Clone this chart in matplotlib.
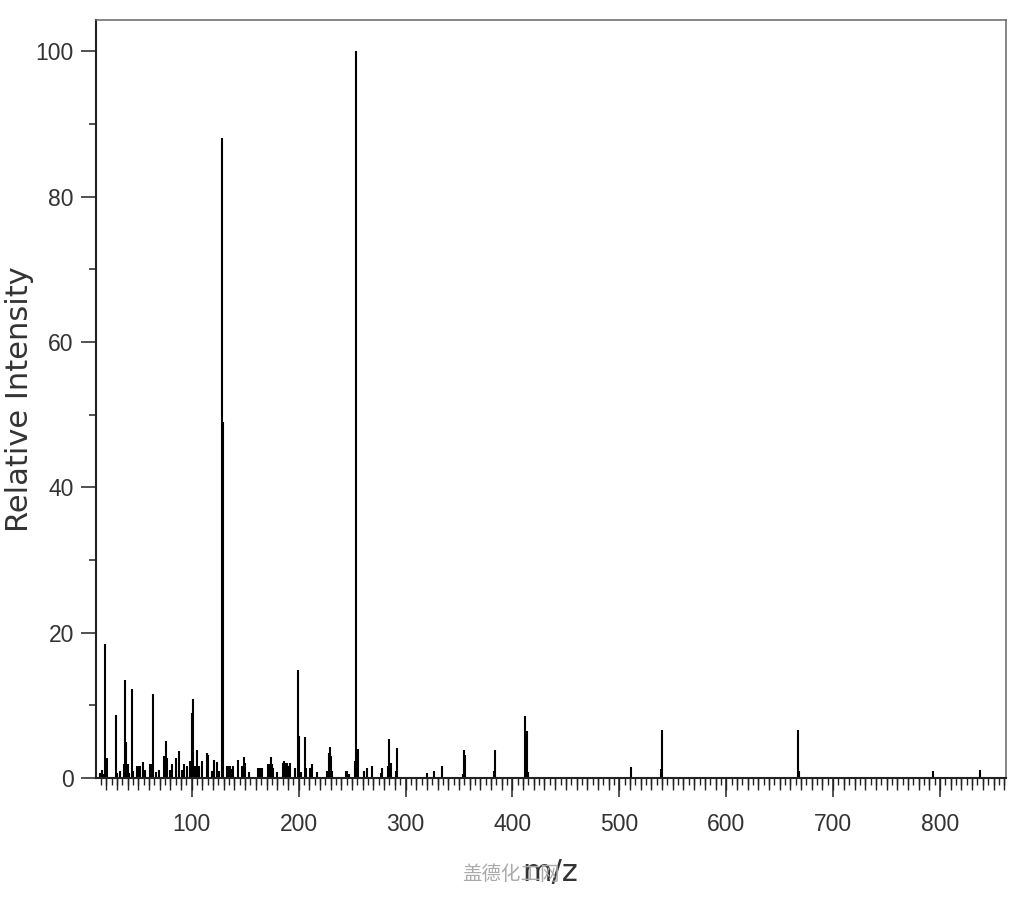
import numpy as np
import matplotlib.pyplot as plt
from matplotlib.ticker import MultipleLocator

# spettro di massa: m/z e intensita relativa
mz = [14, 16, 18, 19, 20, 21, 29, 30, 33, 37, 38, 39, 40, 41, 44, 45,
      49, 50, 51, 52, 54, 56, 61, 62, 63, 64, 67, 69, 74, 75, 76, 77,
      80, 82, 85, 88, 91, 93, 96, 98, 100, 101, 103, 105, 107, 110, 114,
      115, 119, 121, 124, 126, 128, 129, 133, 134, 135, 136, 138, 139,
      143, 147, 149, 150, 154, 162, 163, 164, 166, 171, 173, 174, 175,
      176, 180, 185, 186, 187, 189, 190, 192, 197, 199, 200, 202, 206,
      207, 211, 213, 217, 227, 228, 229, 230, 231, 244, 245, 247, 253,
      254, 255, 256, 261, 264, 269, 277, 278, 284, 285, 286, 291, 292,
      320, 327, 334, 354, 355, 356, 383, 384, 412, 413, 414, 415, 511,
      539, 540, 667, 668, 793, 837]
inten = [0.7, 1.1, 0.5, 18.4, 2.8, 2.8, 8.6, 0.7, 1.0, 1.9, 13.5, 4.9, 1.9,
         0.7, 12.2, 1.0, 1.7, 1.7, 1.5, 1.7, 2.2, 1.1, 1.9, 1.9, 1.9, 11.6,
         0.8, 1.1, 3.0, 3.0, 5.1, 2.8, 1.1, 1.9, 2.8, 3.7, 1.1, 1.9, 1.7,
         2.3, 8.9, 10.8, 1.7, 3.9, 1.7, 2.3, 3.5, 3.2, 0.9, 2.5, 2.2, 1.0,
         88.0, 49.0, 1.7, 1.7, 1.5, 1.7, 1.2, 1.7, 2.5, 1.7, 2.9, 2.0, 0.8,
         1.4, 0.8, 1.4, 1.4, 1.9, 1.9, 2.9, 1.9, 1.4, 0.8, 2.0, 2.3, 2.0,
         2.0, 1.6, 2.0, 1.4, 14.8, 5.8, 0.8, 5.7, 1.4, 1.4, 1.9, 0.8, 1.0,
         3.5, 4.3, 3.0, 1.0, 0.9, 0.9, 0.5, 2.4, 100.0, 2.4, 4.0, 0.9, 1.4,
         1.6, 0.7, 1.4, 1.6, 5.4, 2.0, 0.9, 4.1, 0.7, 0.9, 1.6, 0.6, 3.9,
         3.2, 1.0, 3.8, 8.5, 4.5, 6.5, 0.8, 1.5, 1.3, 6.6, 6.6, 0.9, 0.9, 1.1]

fig = plt.figure(figsize=(10.24, 9), dpi=100)
ax = fig.add_axes([0.09375, 0.1356, 0.8887, 0.8422])

ax.vlines(mz, 0, inten, color='black', lw=1.5)

ax.set_xlim(10.5, 861.7)
ax.set_ylim(0, 104.3)

ax.xaxis.set_major_locator(MultipleLocator(100))
ax.xaxis.set_minor_locator(MultipleLocator(5))
ax.yaxis.set_major_locator(MultipleLocator(20))
ax.yaxis.set_minor_locator(MultipleLocator(10))

ax.tick_params(axis='x', which='major', length=14, width=1.1, color='#222',
               labelsize=16.5, labelcolor='#333', pad=11)
ax.tick_params(axis='x', which='minor', length=5, width=1.0, color='#222')
ax.tick_params(axis='y', which='major', length=11, width=1.1, color='#222',
               labelsize=16.5, labelcolor='#333', pad=5)
ax.tick_params(axis='y', which='minor', length=5, width=1.1, color='#222')
for lab in ax.get_xticklabels() + ax.get_yticklabels():
    lab.set_family('Liberation Sans')

# tacche intermedie ogni 10
sec = ax.secondary_xaxis('bottom')
sec.xaxis.set_major_locator(MultipleLocator(10))
sec.tick_params(length=8.5, width=1.0, color='#222', labelbottom=False)
sec.spines['bottom'].set_visible(False)

for s in ['left', 'bottom']:
    ax.spines[s].set_linewidth(1.5)
    ax.spines[s].set_color('#222')
for s in ['top', 'right']:
    ax.spines[s].set_linewidth(1.1)
    ax.spines[s].set_color('#666')

ax.set_ylabel('Relative Intensity', fontsize=22, color='#333',
              family='DejaVu Sans')
ax.yaxis.set_label_coords(-0.068, 0.5)
ax.set_xlabel('m/z', fontsize=22, color='#333', family='DejaVu Sans')
ax.xaxis.set_label_coords(0.499, -0.1055)

fig.text(0.499, 0.028, '盖德化工网', fontsize=14, color='#aaaaaa',
         family=['Noto Sans CJK SC', 'DejaVu Sans'], ha='center', va='center')

fig.savefig('out.png', dpi=100)
